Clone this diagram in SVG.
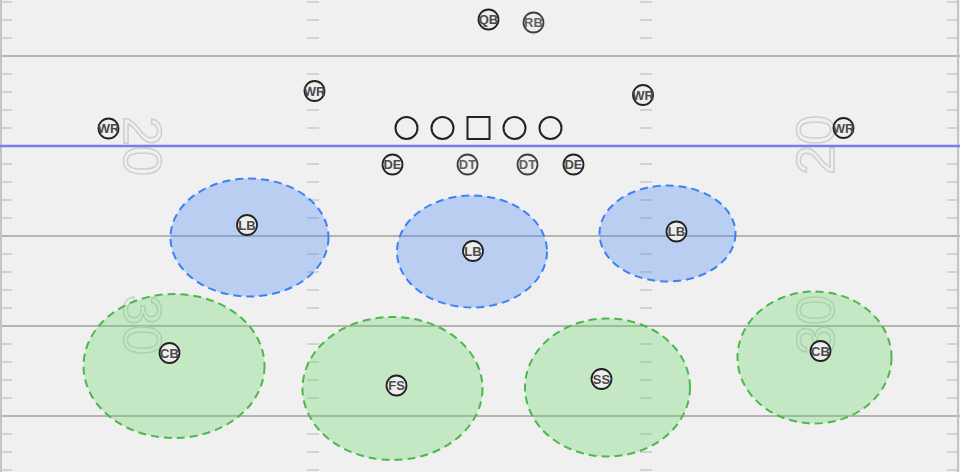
<svg xmlns="http://www.w3.org/2000/svg" width="960" height="472" viewBox="0 0 960 472">
<style>
.field{fill:#f0f0f0}
.yard{stroke:#b4b4b4;stroke-width:2}
.side{stroke:#c4c4c4;stroke-width:2}
.hash{stroke:#c8c8c8;stroke-width:1.5}
.los{stroke:#7b7bee;stroke-width:2.5}
.num{font-family:"Liberation Sans",Arial,sans-serif;font-size:54px;fill:none;stroke:#cfcfcf;stroke-width:1.5;text-anchor:middle;dominant-baseline:central}
.zb{fill:#3b82f6;fill-opacity:0.3;stroke:#3b82f6;stroke-width:2;stroke-dasharray:8 5}
.zg{fill:#5fd35f;fill-opacity:0.3;stroke:#4cb84c;stroke-width:2;stroke-dasharray:8 5}
.p circle{fill:#eeeeee;stroke:#222;stroke-width:1.8}
.p text{font-family:"Liberation Sans",Arial,sans-serif;font-size:13px;font-weight:bold;fill:#4a4a4a;text-anchor:middle;dominant-baseline:central}
.ol{fill:none;stroke:#222;stroke-width:2}
.lt{opacity:0.85}
</style>
<rect class="field" x="0" y="0" width="960" height="472"/>
<g id="yardlines">
<line class="yard" x1="0" y1="56" x2="960" y2="56"/>
<line class="yard" x1="0" y1="236" x2="960" y2="236"/>
<line class="yard" x1="0" y1="326" x2="960" y2="326"/>
<line class="yard" x1="0" y1="416" x2="960" y2="416"/>
<line class="side" x1="1" y1="0" x2="1" y2="472"/>
<line class="side" x1="958" y1="0" x2="958" y2="472"/>
</g>
<g id="hashes">
<path class="hash" d="M1 2h11M1 20h11M1 38h11M1 74h11M1 92h11M1 110h11M1 128h11M1 164h11M1 182h11M1 200h11M1 218h11M1 254h11M1 272h11M1 290h11M1 308h11M1 344h11M1 362h11M1 380h11M1 398h11M1 434h11M1 452h11M1 470h11"/>
<path class="hash" d="M307 2h12M307 20h12M307 38h12M307 74h12M307 92h12M307 110h12M307 128h12M307 164h12M307 182h12M307 200h12M307 218h12M307 254h12M307 272h12M307 290h12M307 308h12M307 344h12M307 362h12M307 380h12M307 398h12M307 434h12M307 452h12M307 470h12"/>
<path class="hash" d="M640 2h12M640 20h12M640 38h12M640 74h12M640 92h12M640 110h12M640 128h12M640 164h12M640 182h12M640 200h12M640 218h12M640 254h12M640 272h12M640 290h12M640 308h12M640 344h12M640 362h12M640 380h12M640 398h12M640 434h12M640 452h12M640 470h12"/>
<path class="hash" d="M947 2h11M947 20h11M947 38h11M947 74h11M947 92h11M947 110h11M947 128h11M947 164h11M947 182h11M947 200h11M947 218h11M947 254h11M947 272h11M947 290h11M947 308h11M947 344h11M947 362h11M947 380h11M947 398h11M947 434h11M947 452h11M947 470h11"/>
</g>
<g id="numbers">
<text class="num" transform="translate(143,146) rotate(90)">20</text>
<text class="num" transform="translate(815,145) rotate(-90)">20</text>
<text class="num" transform="translate(143,325) rotate(90)">30</text>
<text class="num" transform="translate(815,325) rotate(-90)">30</text>
</g>
<line id="line-of-scrimmage" class="los" x1="0" y1="146" x2="960" y2="146"/>
<g id="zones">
<ellipse id="zone-lb1" class="zb" cx="249.5" cy="237.5" rx="79" ry="59"/>
<ellipse id="zone-lb2" class="zb" cx="472" cy="251.5" rx="75" ry="56"/>
<ellipse id="zone-lb3" class="zb" cx="667.5" cy="233.5" rx="68" ry="48"/>
<ellipse id="zone-cb1" class="zg" cx="174" cy="366" rx="90.5" ry="72"/>
<ellipse id="zone-fs" class="zg" cx="392.5" cy="388.5" rx="90" ry="71.5"/>
<ellipse id="zone-ss" class="zg" cx="607.5" cy="387.5" rx="82.5" ry="69"/>
<ellipse id="zone-cb2" class="zg" cx="814.5" cy="357.5" rx="77" ry="66"/>
</g>
<g id="offensive-line">
<circle id="ol-1" class="ol" cx="406.5" cy="128" r="11"/>
<circle id="ol-2" class="ol" cx="442.5" cy="128" r="11"/>
<rect id="ol-center" class="ol" x="467.5" y="117" width="22" height="22"/>
<circle id="ol-4" class="ol" cx="514.5" cy="128" r="11"/>
<circle id="ol-5" class="ol" cx="550.5" cy="128" r="11"/>
</g>
<g id="qb" class="p"><circle cx="488.5" cy="19.5" r="10"/><text x="488.5" y="19.5">QB</text></g>
<g id="rb" class="p lt"><circle cx="533.5" cy="22.5" r="10"/><text x="533.5" y="22.5">RB</text></g>
<g id="wr-1" class="p"><circle cx="108.5" cy="128.5" r="10"/><text x="108.5" y="128.5">WR</text></g>
<g id="wr-2" class="p"><circle cx="314.5" cy="91" r="10"/><text x="314.5" y="91">WR</text></g>
<g id="wr-3" class="p"><circle cx="643" cy="95" r="10"/><text x="643" y="95">WR</text></g>
<g id="wr-4" class="p"><circle cx="843.5" cy="128" r="10"/><text x="843.5" y="128">WR</text></g>
<g id="de-1" class="p"><circle cx="392.5" cy="164.5" r="10"/><text x="392.5" y="164.5">DE</text></g>
<g id="dt-1" class="p lt"><circle cx="467.5" cy="164.5" r="10"/><text x="467.5" y="164.5">DT</text></g>
<g id="dt-2" class="p lt"><circle cx="527.5" cy="164.5" r="10"/><text x="527.5" y="164.5">DT</text></g>
<g id="de-2" class="p"><circle cx="573.5" cy="164.5" r="10"/><text x="573.5" y="164.5">DE</text></g>
<g id="lb-1" class="p"><circle cx="247" cy="225" r="10"/><text x="247" y="225">LB</text></g>
<g id="lb-2" class="p"><circle cx="473" cy="251" r="10"/><text x="473" y="251">LB</text></g>
<g id="lb-3" class="p"><circle cx="676.5" cy="231.5" r="10"/><text x="676.5" y="231.5">LB</text></g>
<g id="cb-1" class="p"><circle cx="169.5" cy="353" r="10"/><text x="169.5" y="353">CB</text></g>
<g id="fs" class="p"><circle cx="396.5" cy="385.5" r="10"/><text x="396.5" y="385.5">FS</text></g>
<g id="ss" class="p"><circle cx="601.5" cy="379" r="10"/><text x="601.5" y="379">SS</text></g>
<g id="cb-2" class="p"><circle cx="820.5" cy="351" r="10"/><text x="820.5" y="351">CB</text></g>
<g id="connectors"></g>
</svg>
